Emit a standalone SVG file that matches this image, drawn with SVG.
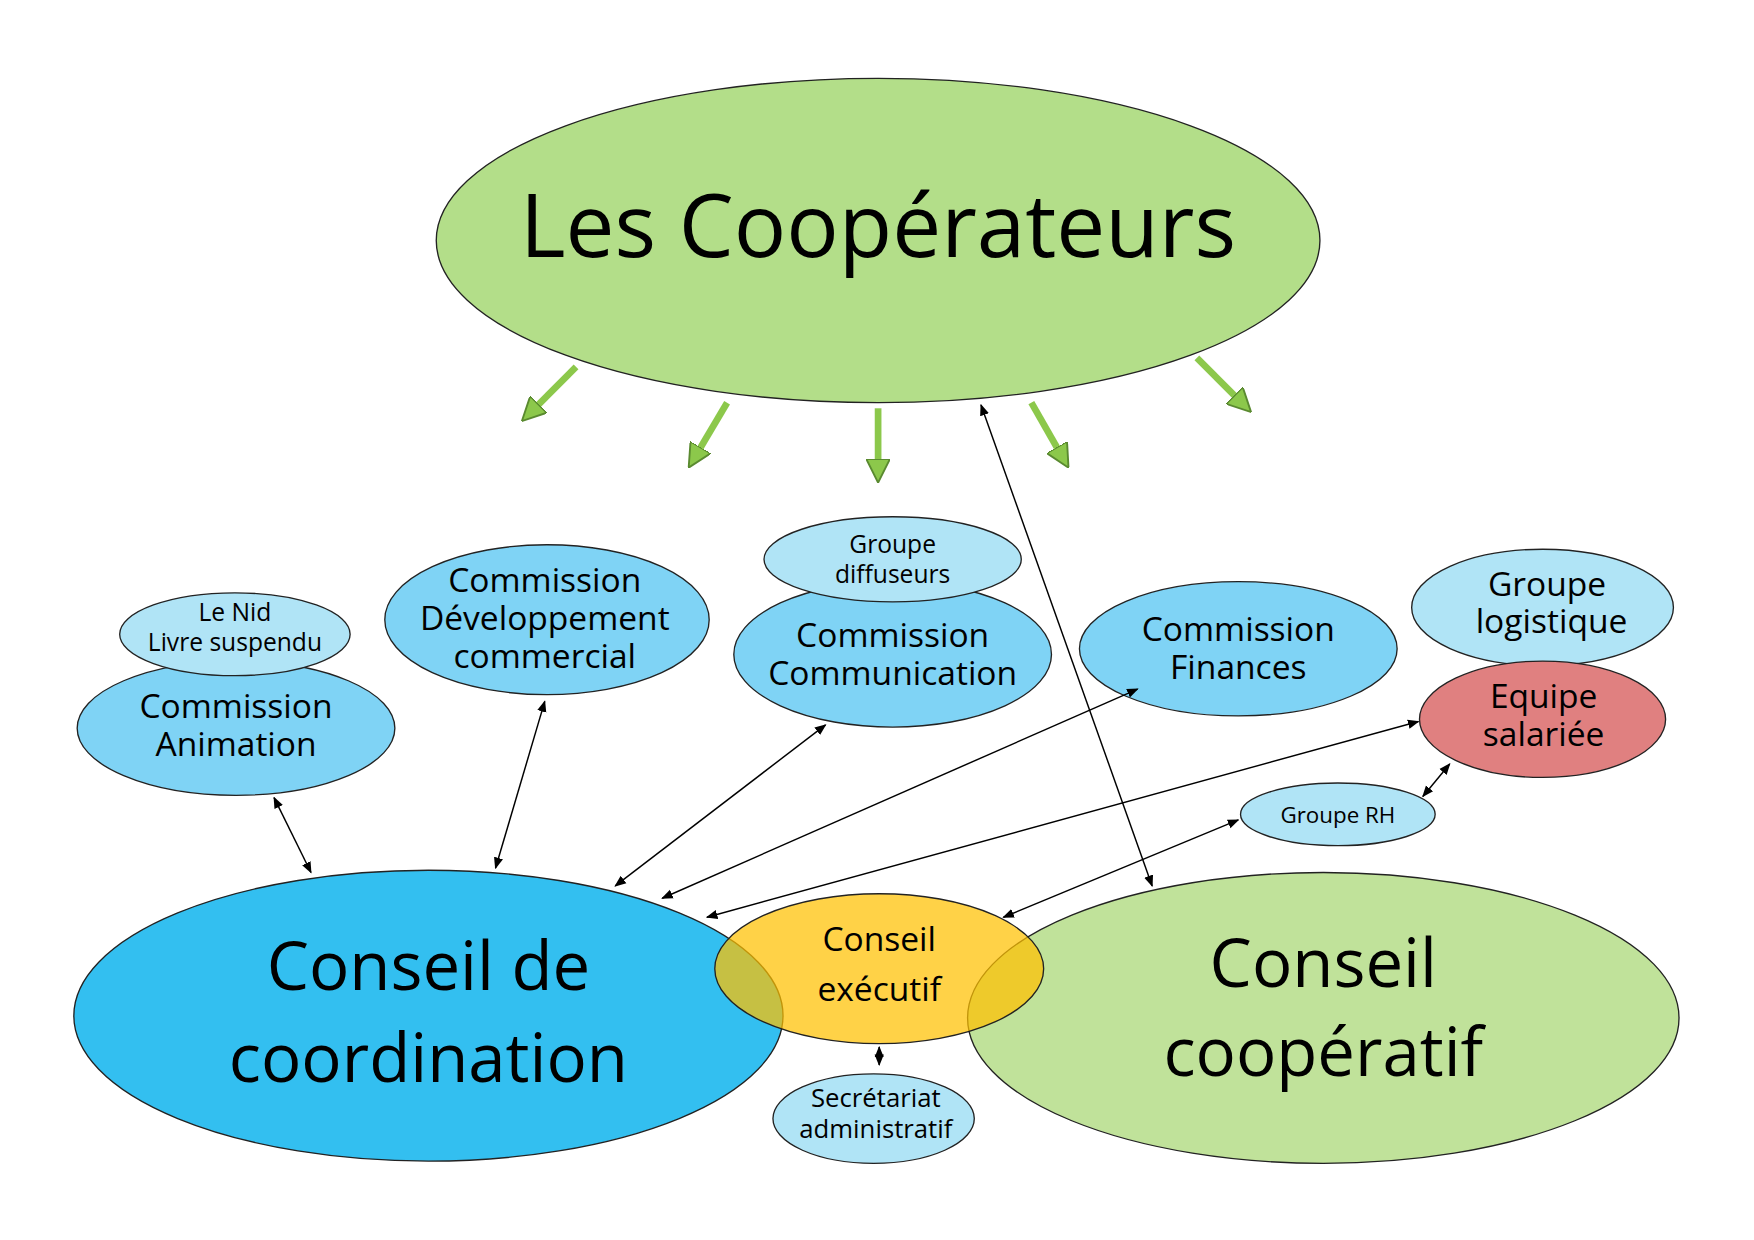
<svg xmlns="http://www.w3.org/2000/svg" width="1754" height="1240" viewBox="0 0 1754 1240">
<defs>
<marker id="a" viewBox="0 0 10 10" refX="9" refY="5" markerWidth="8" markerHeight="8" orient="auto-start-reverse"><path d="M0,1 L10,5 L0,9 z" fill="#000"/></marker>
<marker id="g" viewBox="0 0 10 10" refX="5" refY="5" markerWidth="3.5" markerHeight="3.5" orient="auto"><path d="M0,0 L10,5 L0,10 z" fill="#8cc84b" stroke="#5a8a30" stroke-width="0.8"/></marker>
<style>
ellipse{stroke:#222;stroke-width:1.2}
text{font-family:"Open Sans","Liberation Sans",sans-serif;text-anchor:middle;fill:#000}
.c line{stroke:#000;stroke-width:1.3;marker-start:url(#a);marker-end:url(#a)}
.gr line{stroke:#8cc84b;stroke-width:6;marker-end:url(#g)}
</style>
</defs>
<rect width="1754" height="1240" fill="#fff"/>
<g transform="scale(1.1186)">
<g id="coop"><ellipse cx="785" cy="215" rx="395" ry="145" fill="#b3de89"/><text x="785" y="230" font-size="78">Les Coopérateurs</text></g>
<g id="coord"><ellipse cx="383" cy="908" rx="317" ry="130" fill="#33bff0"/><text x="383" y="885" font-size="60">Conseil  de</text><text x="383" y="967" font-size="60">coordination</text></g>
<g id="coopf"><ellipse cx="1183" cy="910" rx="318" ry="130" fill="#c0e29a"/><text x="1183" y="882" font-size="60">Conseil</text><text x="1183" y="962" font-size="60">coopératif</text></g>
<g id="exec"><ellipse cx="786" cy="866" rx="147" ry="67" fill="#ffc000" fill-opacity="0.72"/><text x="786" y="850" font-size="30">Conseil</text><text x="786" y="895" font-size="30">exécutif</text></g>
<g id="secr"><ellipse cx="781" cy="1000" rx="90" ry="40" fill="#b0e4f6"/><text x="783" y="990" font-size="23">Secrétariat</text><text x="783" y="1017" font-size="23">administratif</text></g>
<g id="anim"><ellipse cx="211" cy="651" rx="142" ry="60" fill="#7fd3f5"/><text x="211" y="642" font-size="30">Commission</text><text x="211" y="676" font-size="30">Animation</text></g>
<g id="nid"><ellipse cx="210" cy="567" rx="103" ry="37" fill="#b0e4f6"/><text x="210" y="555" font-size="22">Le Nid</text><text x="210" y="582" font-size="22">Livre suspendu</text></g>
<g id="dev"><ellipse cx="489" cy="554" rx="145" ry="67" fill="#7fd3f5"/><text x="487" y="529" font-size="30">Commission</text><text x="487" y="563" font-size="30">Développement</text><text x="487" y="597" font-size="30">commercial</text></g>
<g id="comm"><ellipse cx="798" cy="585" rx="142" ry="65" fill="#7fd3f5"/><text x="798" y="578" font-size="30">Commission</text><text x="798" y="612" font-size="30">Communication</text></g>
<g id="diff"><ellipse cx="798" cy="500" rx="115" ry="38" fill="#b0e4f6"/><text x="798" y="494" font-size="22">Groupe</text><text x="798" y="521" font-size="22">diffuseurs</text></g>
<g id="fin"><ellipse cx="1107" cy="580" rx="142" ry="60" fill="#7fd3f5"/><text x="1107" y="573" font-size="30">Commission</text><text x="1107" y="607" font-size="30">Finances</text></g>
<g id="logi"><ellipse cx="1379" cy="543" rx="117" ry="52" fill="#b0e4f6"/><text x="1383" y="533" font-size="30">Groupe</text><text x="1387" y="566" font-size="30">logistique</text></g>
<g id="sal"><ellipse cx="1379" cy="643" rx="110" ry="52" fill="#e08080"/><text x="1380" y="633" font-size="30">Equipe</text><text x="1380" y="667" font-size="30">salariée</text></g>
<g id="rh"><ellipse cx="1196" cy="728" rx="87" ry="28" fill="#b0e4f6"/><text x="1196" y="736" font-size="20">Groupe RH</text></g>
<g id="connectors">
<g class="gr">
<line x1="515" y1="328" x2="474" y2="369"/><line x1="650" y1="360" x2="621" y2="409"/><line x1="785" y1="365" x2="785" y2="421"/><line x1="922" y1="360" x2="950" y2="409"/><line x1="1070" y1="320" x2="1111" y2="361"/>
</g>
<g class="c">
<line x1="245" y1="713" x2="278" y2="780"/><line x1="487" y1="627" x2="443" y2="776"/><line x1="738" y1="648" x2="550" y2="792"/><line x1="1017" y1="616" x2="592" y2="803"/><line x1="1268" y1="645" x2="632" y2="820"/><line x1="877" y1="362" x2="1030" y2="792"/><line x1="1107" y1="733" x2="897" y2="820"/><line x1="1296" y1="683" x2="1272" y2="712"/><line x1="786" y1="936" x2="786" y2="952"/>
</g>
</g>
</g>
</svg>
